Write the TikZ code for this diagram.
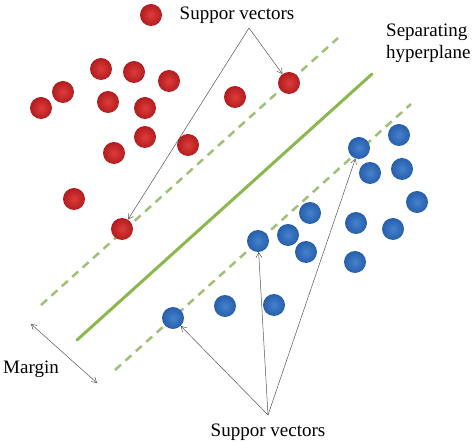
\documentclass[tikz,border=0pt]{standalone}
\usepackage{fontspec}
\setmainfont{Liberation Serif}
\usetikzlibrary{arrows.meta}
\definecolor{redin}{RGB}{222,60,58}
\definecolor{redout}{RGB}{178,28,30}
\definecolor{bluein}{RGB}{70,130,205}
\definecolor{blueout}{RGB}{38,94,170}
\definecolor{hypgreen}{RGB}{138,184,78}
\definecolor{dashgreen}{RGB}{160,192,120}
\definecolor{arrowgray}{RGB}{85,85,85}
\tikzset{
  reddot/.style={circle, minimum size=22pt, inner sep=0pt, shading=radial, inner color=redin, outer color=redout},
  bluedot/.style={circle, minimum size=22pt, inner sep=0pt, shading=radial, inner color=bluein, outer color=blueout},
  lbl/.style={font=\fontsize{19}{22}\selectfont, inner sep=0pt},
  ptr/.style={draw=arrowgray, line width=0.5pt, -{Straight Barb[length=5pt,width=6pt]}},
  marginarrow/.style={draw=arrowgray, line width=0.5pt, {Straight Barb[length=5pt,width=6pt]}-{Straight Barb[length=5pt,width=6pt]}},
  hyper/.style={draw=hypgreen, line width=3pt, line cap=round},
  marginline/.style={draw=dashgreen, line width=2.5pt, dash pattern=on 8pt off 6pt}
}
\begin{document}
\begin{tikzpicture}[x=1pt,y=-1pt]
\useasboundingbox (0,0) rectangle (474,443);
% lines
\coordinate (ua) at (41,305); \coordinate (ub) at (338,38);
\coordinate (ha) at (77,340); \coordinate (hb) at (372,74);
\coordinate (la) at (115,370); \coordinate (lb) at (411,104);
\draw[marginline] (ua) -- (ub);
\draw[hyper] (ha) -- (hb);
\draw[marginline] (la) -- (lb);
% red dots
\node[reddot] (rl) at (151,15) {};
\node[reddot] (r1) at (101,69) {};
\node[reddot] (r2) at (134,72) {};
\node[reddot] (r3) at (169,81) {};
\node[reddot] (r4) at (63,92) {};
\node[reddot] (r5) at (41,108) {};
\node[reddot] (r6) at (108,102) {};
\node[reddot] (r7) at (145,108) {};
\node[reddot] (r8) at (145,137) {};
\node[reddot] (r9) at (114,153) {};
\node[reddot] (r10) at (188,145) {};
\node[reddot] (r11) at (235,97) {};
\node[reddot] (rs1) at (289,83) {};
\node[reddot] (r12) at (74,199) {};
\node[reddot] (rs2) at (122,229) {};
% blue dots
\node[bluedot] (b1) at (399,135) {};
\node[bluedot] (bs1) at (359,148) {};
\node[bluedot] (b2) at (370,173) {};
\node[bluedot] (b3) at (402,169) {};
\node[bluedot] (b4) at (417,202) {};
\node[bluedot] (b5) at (310,213) {};
\node[bluedot] (b6) at (288,235) {};
\node[bluedot] (bs2) at (258,241) {};
\node[bluedot] (b7) at (306,252) {};
\node[bluedot] (b8) at (356,223) {};
\node[bluedot] (b9) at (393,229) {};
\node[bluedot] (b10) at (355,262) {};
\node[bluedot] (b11) at (225,306) {};
\node[bluedot] (b12) at (274,305) {};
\node[bluedot] (bs3) at (173,318) {};
% labels
\node[lbl] (tsv) at (237,15) {Suppor vectors};
\node[lbl, anchor=north west, align=left] (sep) at (386,24) {Separating\\hyperplane};
\node[lbl, anchor=west] (mar) at (3,369) {Margin};
\node[lbl] (bsv) at (268,432) {Suppor vectors};
% pointers
\coordinate (tap) at (249,28);
\coordinate (bap) at (268,415);
\draw[ptr] (tap) -- (rs1);
\draw[ptr] (tap) -- (rs2);
\draw[ptr] (bap) -- (bs3);
\draw[ptr] (bap) -- (bs2);
\draw[ptr] (bap) -- (bs1);
\coordinate (m1) at (31,324); \coordinate (m2) at (97,383);
\draw[marginarrow] (m1) -- (m2);
\end{tikzpicture}
\end{document}
